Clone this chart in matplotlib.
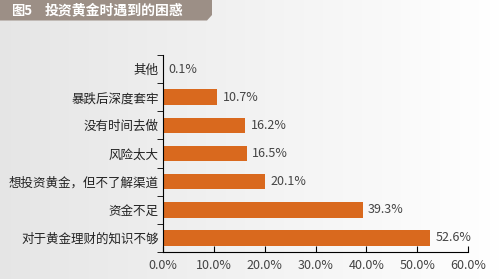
import matplotlib
matplotlib.use("Agg")
import matplotlib.pyplot as plt
import numpy as np
from matplotlib.patches import Polygon

plt.rcParams['font.family'] = ['Noto Sans CJK SC', 'DejaVu Sans']

categories = ["对于黄金理财的知识不够", "资金不足", "想投资黄金，但不了解渠道", "风险太大",
              "没有时间去做", "暴跌后深度套牢", "其他"]
values = [52.6, 39.3, 20.1, 16.5, 16.2, 10.7, 0.1]
xticks = [0, 10, 20, 30, 40, 50, 60]
title_num = "图5"
title_text = "投资黄金时遇到的困惑"

fig = plt.figure(figsize=(5.0, 2.79), dpi=100)

# background gradient
bg = fig.add_axes([0, 0, 1, 1], zorder=0)
grad = np.linspace(0.90, 1.0, 256)
img = np.tile(grad, (10, 1))
bg.imshow(np.dstack([img, img, img]), aspect='auto', extent=[0, 1, 0, 1])
bg.set_xlim(0, 1); bg.set_ylim(0, 1)
bg.axis('off')

# title banner
W, H = 500, 279
def fx(px): return px / W
def fy(py): return 1 - py / H
banner = Polygon([(fx(0), fy(0)), (fx(212), fy(0)), (fx(212), fy(15)),
                  (fx(207), fy(20.5)), (fx(0), fy(20.5))],
                 closed=True, facecolor='#9c8f86', edgecolor='none',
                 transform=bg.transAxes, zorder=2)
bg.add_patch(banner)
bg.text(fx(11), fy(10.5), title_num, color='white', fontsize=9.5, fontweight='bold',
        va='center', ha='left', transform=bg.transAxes, zorder=3)
bg.text(fx(45), fy(10.5), title_text, color='white', fontsize=10, fontweight='bold',
        va='center', ha='left', transform=bg.transAxes, zorder=3)

ax = fig.add_axes([163/W, 1 - 252/H, (468-163)/W, (252-55)/H], zorder=1)
ax.patch.set_alpha(0)
y = np.arange(len(categories))
ax.barh(y, values, height=0.55, color='#d9691e', edgecolor='none')
for yi, v in zip(y, values):
    ax.text(v + 1.0, yi, f"{v:.1f}%", va='center', ha='left', fontsize=9, color='#444444')

ax.set_xlim(0, 60)
ax.set_ylim(-0.5, len(categories) - 0.5)
ax.set_xticks(xticks)
ax.set_xticklabels([f"{t:.1f}%" for t in xticks], fontsize=9, color='#444444')
ax.set_yticks(y)
ax.set_yticklabels(categories, fontsize=9, color='#222222')
ax.set_yticks(np.arange(-0.5, len(categories), 1), minor=True)
ax.tick_params(axis='y', which='major', length=0, pad=3)
ax.tick_params(axis='y', which='minor', length=4, direction='out', color='black')
ax.tick_params(axis='x', which='major', length=4, direction='in', color='black', pad=5)
for s in ['top', 'right']:
    ax.spines[s].set_visible(False)
ax.spines['left'].set_color('black')
ax.spines['bottom'].set_color('black')
ax.spines['left'].set_linewidth(0.8)
ax.spines['bottom'].set_linewidth(0.8)

fig.savefig("out.png", dpi=100)
